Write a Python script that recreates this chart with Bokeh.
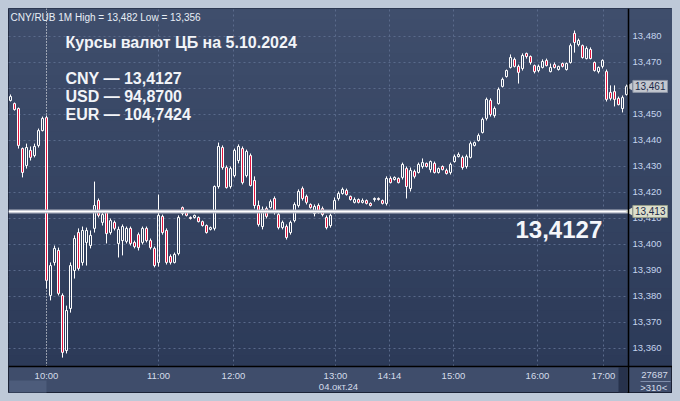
import re
import numpy as np
from bokeh.plotting import figure
from bokeh.models import Range1d, Span, Label, ColumnDataSource, BoxAnnotation
from bokeh.core.properties import value
from bokeh.embed import file_html
from bokeh.resources import INLINE

# ---------------- data (CNY/RUB, 1-minute candles, aggregated) ----------------
opens = [13.4554, 13.4542, 13.4523, 13.4369, 13.4304, 13.4362, 13.4342, 13.4381, 13.4438, 13.4488,
         13.3804, 13.3931, 13.3977, 13.3804, 13.3592, 13.3754, 13.3900, 13.4046, 13.3931, 13.4008,
         13.3996, 13.4062, 13.4169, 13.4085, 13.4123, 13.4046, 13.4085, 13.4004, 13.4015, 13.4012,
         13.4062, 13.4008, 13.4038, 13.4008, 13.4062, 13.4015, 13.3985, 13.3931, 13.4108, 13.4054,
         13.3954, 13.3931, 13.3965, 13.4142, 13.4123, 13.4104, 13.4104, 13.4104, 13.4088, 13.4073,
         13.4058, 13.4062, 13.4223, 13.4373, 13.4296, 13.4223, 13.4265, 13.4323, 13.4369, 13.4265,
         13.4342, 13.4246, 13.4150, 13.4069, 13.4138, 13.4142, 13.4177, 13.4115, 13.4065, 13.4069,
         13.4046, 13.4092, 13.4150, 13.4215, 13.4185, 13.4154, 13.4119, 13.4150, 13.4138, 13.4104,
         13.4073, 13.4123, 13.4177, 13.4196, 13.4208, 13.4185, 13.4162, 13.4173, 13.4162, 13.4169,
         13.4158, 13.4173, 13.4177, 13.4169, 13.4158, 13.4254, 13.4250, 13.4254, 13.4258, 13.4292,
         13.4215, 13.4281, 13.4277, 13.4300, 13.4312, 13.4288, 13.4312, 13.4277, 13.4300, 13.4285,
         13.4277, 13.4319, 13.4338, 13.4335, 13.4300, 13.4335, 13.4381, 13.4400, 13.4431, 13.4485,
         13.4554, 13.4496, 13.4542, 13.4608, 13.4646, 13.4681, 13.4712, 13.4685, 13.4677, 13.4735,
         13.4723, 13.4688, 13.4669, 13.4681, 13.4708, 13.4665, 13.4692, 13.4673, 13.4696, 13.4673,
         13.4700, 13.4812, 13.4769, 13.4765, 13.4715, 13.4750, 13.4700, 13.4665, 13.4685, 13.4665,
         13.4585, 13.4588, 13.4562, 13.4523, 13.4577]
closes = [13.4569, 13.4519, 13.4381, 13.4277, 13.4373, 13.4335, 13.4377, 13.4438, 13.4485, 13.3862,
          13.3919, 13.3985, 13.3812, 13.3585, 13.3746, 13.3919, 13.4023, 13.3908, 13.4054, 13.4054,
          13.4035, 13.4150, 13.4112, 13.4115, 13.4042, 13.4092, 13.4062, 13.4058, 13.4069, 13.4062,
          13.4004, 13.3992, 13.3988, 13.4062, 13.4015, 13.3988, 13.3919, 13.4112, 13.4046, 13.3931,
          13.3931, 13.3962, 13.4104, 13.4119, 13.4112, 13.4100, 13.4112, 13.4088, 13.4073, 13.4046,
          13.4065, 13.4223, 13.4377, 13.4296, 13.4219, 13.4292, 13.4362, 13.4377, 13.4238, 13.4358,
          13.4227, 13.4150, 13.4077, 13.4135, 13.4108, 13.4165, 13.4123, 13.4065, 13.4085, 13.4027,
          13.4085, 13.4154, 13.4204, 13.4177, 13.4162, 13.4142, 13.4146, 13.4127, 13.4115, 13.4065,
          13.4112, 13.4169, 13.4196, 13.4212, 13.4192, 13.4173, 13.4173, 13.4162, 13.4169, 13.4158,
          13.4150, 13.4177, 13.4173, 13.4158, 13.4254, 13.4238, 13.4258, 13.4238, 13.4308, 13.4223,
          13.4285, 13.4262, 13.4308, 13.4315, 13.4300, 13.4319, 13.4277, 13.4292, 13.4288, 13.4273,
          13.4308, 13.4338, 13.4346, 13.4296, 13.4338, 13.4388, 13.4392, 13.4419, 13.4481, 13.4558,
          13.4500, 13.4523, 13.4596, 13.4635, 13.4669, 13.4719, 13.4685, 13.4662, 13.4727, 13.4723,
          13.4700, 13.4665, 13.4685, 13.4704, 13.4688, 13.4681, 13.4681, 13.4685, 13.4685, 13.4696,
          13.4765, 13.4777, 13.4785, 13.4719, 13.4754, 13.4715, 13.4669, 13.4681, 13.4708, 13.4558,
          13.4562, 13.4558, 13.4538, 13.4565, 13.4608]
highs = [13.4577, 13.4546, 13.4527, 13.4373, 13.4388, 13.4377, 13.4388, 13.4446, 13.4492, 13.4496,
         13.3931, 13.3996, 13.3988, 13.3812, 13.3765, 13.3931, 13.4035, 13.4062, 13.4069, 13.4065,
         13.4054, 13.4242, 13.4177, 13.4127, 13.4131, 13.4100, 13.4092, 13.4069, 13.4077, 13.4069,
         13.4069, 13.4015, 13.4046, 13.4069, 13.4069, 13.4023, 13.3992, 13.4192, 13.4115, 13.4062,
         13.3962, 13.3969, 13.4112, 13.4146, 13.4131, 13.4108, 13.4115, 13.4108, 13.4092, 13.4077,
         13.4069, 13.4227, 13.4392, 13.4381, 13.4304, 13.4300, 13.4369, 13.4385, 13.4377, 13.4365,
         13.4350, 13.4262, 13.4169, 13.4146, 13.4146, 13.4173, 13.4185, 13.4123, 13.4092, 13.4077,
         13.4092, 13.4162, 13.4212, 13.4223, 13.4192, 13.4158, 13.4154, 13.4158, 13.4146, 13.4112,
         13.4119, 13.4181, 13.4204, 13.4219, 13.4215, 13.4188, 13.4181, 13.4177, 13.4177, 13.4173,
         13.4162, 13.4181, 13.4181, 13.4173, 13.4262, 13.4262, 13.4262, 13.4258, 13.4315, 13.4300,
         13.4296, 13.4288, 13.4315, 13.4331, 13.4315, 13.4323, 13.4319, 13.4296, 13.4304, 13.4292,
         13.4315, 13.4346, 13.4354, 13.4342, 13.4346, 13.4396, 13.4396, 13.4427, 13.4488, 13.4565,
         13.4562, 13.4531, 13.4604, 13.4642, 13.4673, 13.4731, 13.4719, 13.4692, 13.4735, 13.4738,
         13.4727, 13.4692, 13.4692, 13.4712, 13.4715, 13.4696, 13.4700, 13.4688, 13.4700, 13.4700,
         13.4773, 13.4823, 13.4792, 13.4769, 13.4762, 13.4758, 13.4704, 13.4685, 13.4712, 13.4673,
         13.4612, 13.4612, 13.4569, 13.4573, 13.4615]
lows = [13.4550, 13.4515, 13.4369, 13.4258, 13.4292, 13.4323, 13.4335, 13.4373, 13.4435, 13.3831,
        13.3785, 13.3919, 13.3804, 13.3565, 13.3581, 13.3738, 13.3869, 13.3900, 13.3919, 13.3919,
        13.3985, 13.4046, 13.4104, 13.4073, 13.4004, 13.4038, 13.4054, 13.3950, 13.3958, 13.4004,
        13.3996, 13.3985, 13.3977, 13.4000, 13.4008, 13.3981, 13.3912, 13.3915, 13.4038, 13.3923,
        13.3923, 13.3927, 13.3958, 13.4112, 13.4108, 13.4096, 13.4100, 13.4085, 13.4069, 13.4042,
        13.4054, 13.4054, 13.4215, 13.4288, 13.4215, 13.4215, 13.4258, 13.4312, 13.4231, 13.4258,
        13.4223, 13.4138, 13.4069, 13.4058, 13.4100, 13.4138, 13.4115, 13.4058, 13.4058, 13.4019,
        13.4038, 13.4085, 13.4142, 13.4169, 13.4154, 13.4138, 13.4108, 13.4119, 13.4108, 13.4058,
        13.4065, 13.4119, 13.4169, 13.4192, 13.4188, 13.4169, 13.4158, 13.4158, 13.4158, 13.4154,
        13.4146, 13.4165, 13.4169, 13.4154, 13.4150, 13.4235, 13.4246, 13.4235, 13.4250, 13.4177,
        13.4204, 13.4254, 13.4273, 13.4292, 13.4296, 13.4277, 13.4273, 13.4273, 13.4285, 13.4269,
        13.4269, 13.4315, 13.4335, 13.4288, 13.4292, 13.4331, 13.4377, 13.4396, 13.4427, 13.4477,
        13.4492, 13.4488, 13.4538, 13.4604, 13.4642, 13.4677, 13.4681, 13.4619, 13.4669, 13.4715,
        13.4692, 13.4658, 13.4662, 13.4677, 13.4685, 13.4662, 13.4677, 13.4669, 13.4681, 13.4669,
        13.4696, 13.4738, 13.4762, 13.4715, 13.4712, 13.4712, 13.4665, 13.4658, 13.4677, 13.4550,
        13.4554, 13.4531, 13.4535, 13.4508, 13.4573]

y_ticks = [13.36, 13.37, 13.38, 13.39, 13.40, 13.41, 13.42, 13.43, 13.44, 13.45, 13.46, 13.47, 13.48]
y_tick_labels = ["13,360", "13,370", "13,380", "13,390", "13,400", "13,410", "13,420",
                 "13,430", "13,440", "13,450", "13,460", "13,470", "13,480"]
time_ticks = [9, 37, 55.75, 81.25, 94.75, 110.75, 131.75, 148.25]
time_labels = ["10:00", "11:00", "12:00", "13:00", "14:14", "15:00", "16:00", "17:00"]

cb_rate = 13.4127
last_price = 13.4608
header = "CNY/RUB 1M High = 13,482 Low = 13,356"
title = "Курсы валют ЦБ на 5.10.2024"
rates = ["CNY — 13,4127", "USD — 94,8700", "EUR — 104,7424"]
big_value = "13,4127"
date_label = "04.окт.24"
corner_top = "27687"
corner_bottom = ">310<"

# ---------------- layout constants (bar units / price units) ----------------
X_LEFT, X_RIGHT = -0.5, 165.5          # whole canvas, 4 px per bar
PLOT_RIGHT = 154.5                     # right edge of the candle area
Y_BOTTOM, Y_TOP = 13.342692, 13.490769 # whole canvas, 2600 px per unit
Y_AXIS = 13.353077                     # bottom edge of the candle area
FONT = "Liberation Sans"
RED = "#e3143e"
AXIS_TXT = "#c4d4ee"

bars = list(range(len(opens)))
src = ColumnDataSource(dict(
    x=bars, h=highs, l=lows,
    top=[max(a, b) for a, b in zip(opens, closes)],
    bottom=[min(a, b) for a, b in zip(opens, closes)],
    alpha=[1.0 if c < o else 0.0 for o, c in zip(opens, closes)],
))

p = figure(width=664, height=385, output_backend="svg", toolbar_location=None,
           x_range=Range1d(X_LEFT, X_RIGHT), y_range=Range1d(Y_BOTTOM, Y_TOP),
           x_axis_location=None, y_axis_location=None, min_border=0)
p.xgrid.visible = False
p.ygrid.visible = False
p.background_fill_color = "#3f4d6b"     # time-axis band
p.border_fill_color = "#3f4d6b"
p.outline_line_color = "#1b2236"

# vertical gradient of the chart panel
n_bands = 32
edges = np.linspace(Y_AXIS, Y_TOP, n_bands + 1)
c_bot = np.array([44, 58, 88])
c_top = np.array([63, 78, 108])
for k in range(n_bands):
    f = (k + 0.5) / n_bands
    r, g, b = (c_bot + (c_top - c_bot) * f).round().astype(int)
    p.add_layout(BoxAnnotation(bottom=edges[k], top=edges[k + 1] + 0.0004,
                               fill_color=f"#{r:02x}{g:02x}{b:02x}", fill_alpha=1.0,
                               line_color=None, level="underlay"))

# scrollbar details in the time band
p.add_layout(BoxAnnotation(left=-0.3, right=9, bottom=13.3431, top=13.3477,
                           fill_color="#4d5c7b", fill_alpha=1.0, line_color=None, level="underlay"))
p.add_layout(BoxAnnotation(left=152, right=154.2, bottom=13.3431, top=13.3527,
                           fill_color="#27324c", fill_alpha=1.0, line_color=None, level="underlay"))

# grid lines (dashed), restricted to the candle area
p.segment(x0=[X_LEFT] * len(y_ticks), y0=y_ticks, x1=[PLOT_RIGHT] * len(y_ticks), y1=y_ticks,
          line_color="#5b6b8c", line_dash="2 3", line_width=1)
p.segment(x0=time_ticks[1:], y0=[Y_AXIS] * (len(time_ticks) - 1),
          x1=time_ticks[1:], y1=[Y_TOP] * (len(time_ticks) - 1),
          line_color="#5b6b8c", line_dash="2 3", line_width=1)
# session start (10:00)
p.segment(x0=[time_ticks[0]], y0=[Y_AXIS], x1=[time_ticks[0]], y1=[Y_TOP],
          line_color="white", line_dash="1 2", line_width=1)

# candles
p.segment(x0="x", y0="h", x1="x", y1="top", source=src, line_color="white", line_width=1)
p.segment(x0="x", y0="bottom", x1="x", y1="l", source=src, line_color="white", line_width=1)
p.vbar(x="x", width=0.5, top="top", bottom="bottom", source=src,
       fill_color=RED, fill_alpha="alpha", line_color="white", line_width=1)

# CB rate line
p.segment(x0=[X_LEFT], y0=[cb_rate], x1=[155.2], y1=[cb_rate], line_color="#b4b8c6", line_width=4)
p.segment(x0=[X_LEFT], y0=[cb_rate], x1=[155.2], y1=[cb_rate], line_color="white", line_width=1.5)

# axis frame lines
p.add_layout(Span(location=PLOT_RIGHT, dimension="height", line_color="black", line_width=1.5))
p.add_layout(Span(location=Y_AXIS, dimension="width", line_color="black", line_width=1.5))

# price-axis labels
p.text(x=[155.5] * len(y_ticks), y=y_ticks, text=y_tick_labels, text_font=value(FONT),
       text_font_size=value("9.5px"), text_color=AXIS_TXT, text_baseline="middle", text_align="left")
# time-axis labels
p.text(x=time_ticks, y=[13.3496] * len(time_ticks), text=time_labels, text_font=value(FONT),
       text_font_size=value("9.5px"), text_color="#d4dcea", text_baseline="middle", text_align="center")
p.text(x=[82], y=[13.3454], text=[date_label], text_font=value(FONT),
       text_font_size=value("9.5px"), text_color="#d4dcea", text_baseline="middle", text_align="center")
p.text(x=[161], y=[13.3498], text=[corner_top], text_font=value(FONT),
       text_font_size=value("9.5px"), text_color="#d4dcea", text_baseline="middle", text_align="center")
p.text(x=[160.8], y=[13.3450], text=[corner_bottom], text_font=value(FONT),
       text_font_size=value("9.5px"), text_color="#d4dcea", text_baseline="middle", text_align="center")
p.segment(x0=[157.5], y0=[13.3473], x1=[165], y1=[13.3473], line_color="#8090ac", line_width=1)

# price markers (last price, CB rate) on the price axis
for price, box, edge in ((last_price, "#c3c7cf", "#8c94a4"), (cb_rate, "#dcdfcc", "#9aa08c")):
    p.scatter(x=[154.9], y=[price], marker="triangle", size=8, angle=np.pi / 2,
              fill_color=box, line_color=None)
    p.add_layout(Label(x=155.6, y=price, text=f"{price:.3f}".replace(".", ","), text_font=FONT,
                       text_font_size="10px", text_color="#1d2a4a", text_baseline="middle",
                       background_fill_color=box, border_line_color=edge, padding=2))

# overlay texts
p.add_layout(Label(x=0, y=13.4896, text=header, text_font=FONT, text_font_size="10px",
                   text_color="#e8eef6", text_baseline="top"))
p.add_layout(Label(x=13.75, y=13.4808, text=title, text_font=FONT, text_font_size="16px",
                   text_font_style="bold", text_color="#f2f4f8", text_baseline="top"))
for i, t in enumerate(rates):
    p.add_layout(Label(x=13.75, y=13.4673 - i * 0.0071, text=t, text_font=FONT,
                       text_font_size="16px", text_font_style="bold", text_color="#f2f4f8",
                       text_baseline="top"))
p.add_layout(Label(x=126.25, y=13.4092, text=big_value, text_font=FONT, text_font_size="24px",
                   text_font_style="bold", text_color="#f4f6fa", text_baseline="top"))

html = file_html(p, INLINE)
style = ("<style>html,body{background-color:#bec9d8 !important;}"
         "body{margin:0 !important;padding:8px !important;box-sizing:border-box;}</style>")
html = html.replace("</head>", style + "</head>", 1)
open("out.html", "w").write(html)
